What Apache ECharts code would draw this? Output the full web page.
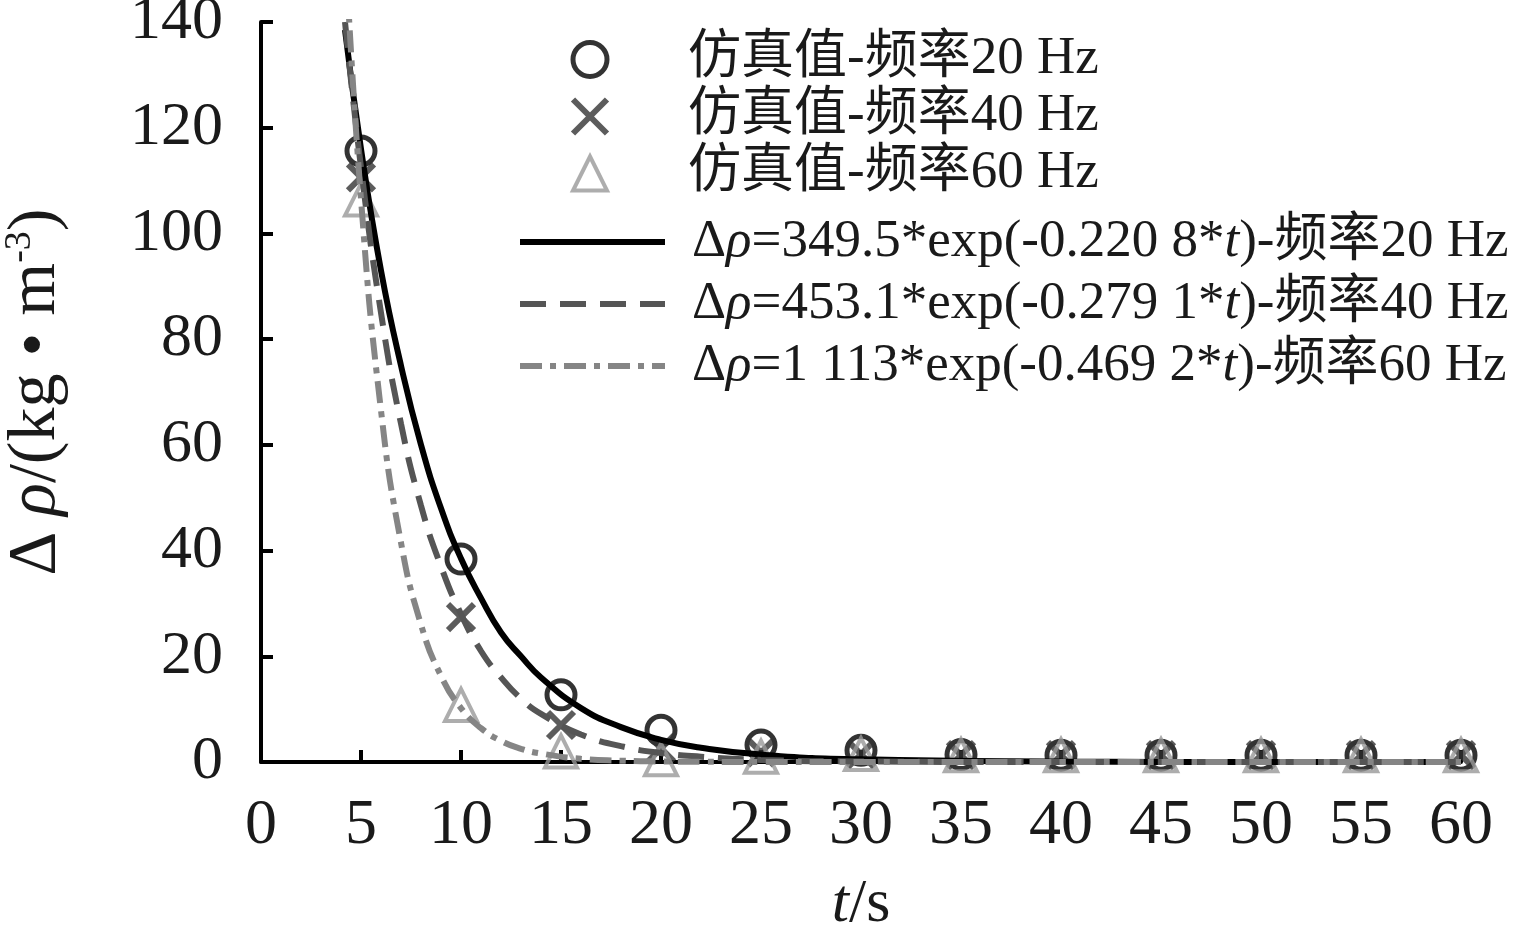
<!DOCTYPE html>
<html>
<head>
<meta charset="utf-8">
<title>Δρ - t</title>
<script src="https://cdn.jsdelivr.net/npm/echarts@6.0.0/dist/echarts.min.js"></script>
<style>
    html, body {margin: 0; padding: 0; background: #fff;}
    #chart {width: 1537px; height: 934px;}
</style>
</head>
<body>
<div id="chart"></div>
<script>
// 仿真值
var simTimes = [5, 10, 15, 20, 25, 30, 35, 40, 45, 50, 55, 60];
var sim20 = [115.6, 38.4, 12.7, 6.0, 3.2, 2.2, 1.4, 1.3, 1.3, 1.3, 1.3, 1.3];
var sim40 = [110.6, 27.4, 7.0, 2.6, 1.8, 1.5, 1.3, 1.3, 1.3, 1.3, 1.3, 1.3];
var sim60 = [106.4, 10.8, 2.0, 0.5, 1.0, 1.5, 1.3, 1.3, 1.3, 1.3, 1.3, 1.3];

// 拟合曲线
var fitTimes = [4.2, 5, 6, 7, 8, 9, 10, 11, 12, 13, 14, 16, 18, 20, 22, 25, 30, 40, 50, 60];
var fit20 = [138.5, 116, 93, 75, 60, 48, 38.5, 31, 24.5, 20, 16, 10.2, 6.6, 4.2, 2.7, 1.4, 0.5, 0.1, 0, 0];
var fit40 = [140, 112.5, 85, 64, 48.5, 37, 28, 21, 16, 12, 9.1, 5.2, 3.0, 1.7, 1.0, 0.4, 0.1, 0, 0, 0];
var fit60 = [155, 106.5, 66.5, 41.5, 26, 16.3, 10.2, 6.4, 4.0, 2.5, 1.6, 0.6, 0.25, 0.1, 0.04, 0, 0, 0, 0, 0];

var simNames = ['仿真值-频率20 Hz', '仿真值-频率40 Hz', '仿真值-频率60 Hz'];
var fitNames = [
    'Δρ=349.5*exp(-0.220 8*t)-频率20 Hz',
    'Δρ=453.1*exp(-0.279 1*t)-频率40 Hz',
    'Δρ=1 113*exp(-0.469 2*t)-频率60 Hz'
];
var xTicks = {min: 0, max: 60, interval: 5};
var yTicks = {min: 0, max: 140, interval: 20};

var FONT = "'Liberation Serif', 'Times New Roman', 'Noto Sans CJK SC', serif";
var crossPath = 'path://M0,0L10,10M10,0L0,10';

function pairs(xs, ys) {
    return xs.map(function (x, i) { return [x, ys[i]]; });
}

function fitLabel(name) {
    return '{sp|}{n|' + name.replace('ρ', '}{i|ρ}{n|').replace('*t)', '*}{i|t}{n|)') + '}';
}

var simStyles = [
    {symbol: 'circle', size: 28, color: '#000', width: 5},
    {symbol: crossPath, size: 26, color: '#333', width: 6},
    {symbol: 'triangle', size: 32, color: '#999', width: 4}
];
var fitStyles = [
    {color: '#000', width: 6, type: 'solid'},
    {color: '#555', width: 6, type: [26, 14]},
    {color: '#858585', width: 6, type: [22, 8, 6, 8]}
];
var simData = [sim20, sim40, sim60];
var fitData = [fit20, fit40, fit60];

var series = [];
simData.forEach(function (vals, i) {
    var s = simStyles[i];
    series.push({
        name: simNames[i], type: 'scatter', symbol: s.symbol, symbolSize: s.size,
        itemStyle: {color: 'transparent', borderColor: s.color, borderWidth: s.width},
        data: pairs(simTimes, vals), z: 2
    });
});
fitData.forEach(function (vals, i) {
    var s = fitStyles[i];
    series.push({
        name: fitNames[i], type: 'line', smooth: true, showSymbol: false, symbol: 'none',
        lineStyle: {color: s.color, width: s.width, type: s.type},
        itemStyle: {color: s.color},
        data: pairs(fitTimes, vals), z: 3
    });
});

var option = {
    animation: false,
    backgroundColor: '#fff',
    grid: {left: 261, right: 76, top: 22, bottom: 172, containLabel: false, outerBoundsMode: 'none'},
    legend: [{
        orient: 'vertical', left: 565, top: 28, itemWidth: 34, itemHeight: 34, itemGap: 4,
        data: simNames.map(function (n, i) {
            var s = simStyles[i];
            return {name: n, icon: s.symbol,
                itemStyle: {color: 'transparent', borderColor: s.color, borderWidth: s.width}};
        }),
        formatter: function (name) { return '{sp|}{n|' + name + '}'; },
        textStyle: {
            lineHeight: 52,
            rich: {
                sp: {width: 76},
                n: {fontFamily: FONT, fontSize: 53, color: '#1a1a1a', lineHeight: 52}
            }
        }
    }, {
        orient: 'vertical', left: 512, top: 209, itemWidth: 145, itemHeight: 20, itemGap: 6,
        data: fitNames.map(function (n, i) {
            var s = fitStyles[i];
            return {name: n, lineStyle: {color: s.color, width: s.width, type: s.type},
                itemStyle: {color: 'transparent', borderWidth: 0}};
        }),
        formatter: fitLabel,
        textStyle: {
            lineHeight: 56,
            rich: {
                sp: {width: 22},
                n: {fontFamily: FONT, fontSize: 53, color: '#1a1a1a', lineHeight: 56},
                i: {fontFamily: FONT, fontSize: 53, fontStyle: 'italic', color: '#1a1a1a', lineHeight: 56}
            }
        }
    }],
    xAxis: {
        type: 'value', min: xTicks.min, max: xTicks.max, interval: xTicks.interval,
        name: '{i|t}{n|/s}', nameLocation: 'middle', nameGap: 112,
        nameTextStyle: {
            rich: {
                i: {fontFamily: FONT, fontSize: 62, fontStyle: 'italic', color: '#1a1a1a'},
                n: {fontFamily: FONT, fontSize: 62, color: '#1a1a1a'}
            }
        },
        axisLine: {show: true, onZero: false, lineStyle: {color: '#000', width: 4}},
        axisTick: {show: true, inside: true, length: 12, lineStyle: {color: '#000', width: 4}},
        axisLabel: {fontFamily: FONT, fontSize: 64, color: '#1a1a1a', margin: 32},
        splitLine: {show: false}
    },
    yAxis: {
        type: 'value', min: yTicks.min, max: yTicks.max, interval: yTicks.interval,
        name: '{n|Δ}{g|}{i|ρ}{n|/(kg • m}{s|-3}{n|)}', nameLocation: 'middle', nameRotate: 90, nameGap: 190,
        nameTextStyle: {
            rich: {
                n: {fontFamily: FONT, fontSize: 68, color: '#1a1a1a', lineHeight: 70},
                g: {width: 16},
                i: {fontFamily: FONT, fontSize: 68, fontStyle: 'italic', color: '#1a1a1a', lineHeight: 70},
                s: {fontFamily: FONT, fontSize: 38, color: '#1a1a1a', verticalAlign: 'top', lineHeight: 70}
            }
        },
        axisLine: {show: true, onZero: false, lineStyle: {color: '#000', width: 4}},
        axisTick: {show: true, inside: true, length: 12, lineStyle: {color: '#000', width: 4}},
        axisLabel: {fontFamily: FONT, fontSize: 62, color: '#1a1a1a', margin: 38},
        splitLine: {show: false}
    },
    series: series
};

var chart = echarts.init(document.getElementById('chart'), null, {renderer: 'canvas'});
chart.setOption(option);
</script>
</body>
</html>
